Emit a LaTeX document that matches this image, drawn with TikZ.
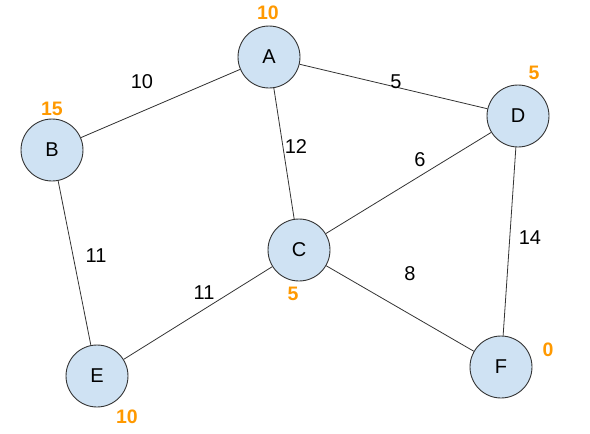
\documentclass[tikz,border=0pt]{standalone}
\usepackage{fontspec}
\setmainfont{Liberation Sans}
\definecolor{nodeblue}{RGB}{207,226,243}
\definecolor{costorange}{RGB}{255,153,0}
\definecolor{edgegray}{RGB}{51,51,51}
\usetikzlibrary{positioning}

\begin{document}
\begin{tikzpicture}[x=1pt,y=-1pt,
    vertex/.style={circle,draw=edgegray,fill=nodeblue,line width=0.9pt,
                   minimum size=62pt,inner sep=0pt,font=\fontsize{20}{20}\selectfont},
    weight/.style={font=\fontsize{20}{20}\selectfont,inner sep=1pt},
    cost/.style={font=\fontsize{19.5}{19.5}\selectfont\bfseries,text=costorange,inner sep=1pt},
    link/.style={draw=edgegray,line width=0.8pt}]
  \useasboundingbox (0,0) rectangle (590,434);
  %% Vertices
  \node[vertex] (A) at (269,57) {A};
  \node[vertex] (B) at (52,150) {B};
  \node[vertex] (C) at (299,250) {C};
  \node[vertex] (D) at (518,116) {D};
  \node[vertex] (E) at (97,376) {E};
  \node[vertex] (F) at (501,367) {F};

  %% Edges
  \draw[link] (A) -- (B);
  \draw[link] (A) -- (D);
  \draw[link] (A) -- (C);
  \draw[link] (C) -- (D);
  \draw[link] (B) -- (E);
  \draw[link] (C) -- (E);
  \draw[link] (C) -- (F);
  \draw[link] (D) -- (F);

  %% Edge weights
  \node[weight] (wAB) at (142,82) {10};
  \node[weight] (wAD) at (396,82) {5};
  \node[weight] (wAC) at (296,147) {12};
  \node[weight] (wCD) at (420,160) {6};
  \node[weight] (wDF) at (530,238) {14};
  \node[weight] (wBE) at (96,256) {11};
  \node[weight] (wCF) at (410,274) {8};
  \node[weight] (wCE) at (204,293) {11};

  %% Node costs
  \node[cost] (cA) at (268,13) {10};
  \node[cost] (cB) at (52,109) {15};
  \node[cost] (cC) at (293,294) {5};
  \node[cost] (cD) at (534,73) {5};
  \node[cost] (cE) at (127,417) {10};
  \node[cost] (cF) at (548,350) {0};
\end{tikzpicture}
\end{document}
